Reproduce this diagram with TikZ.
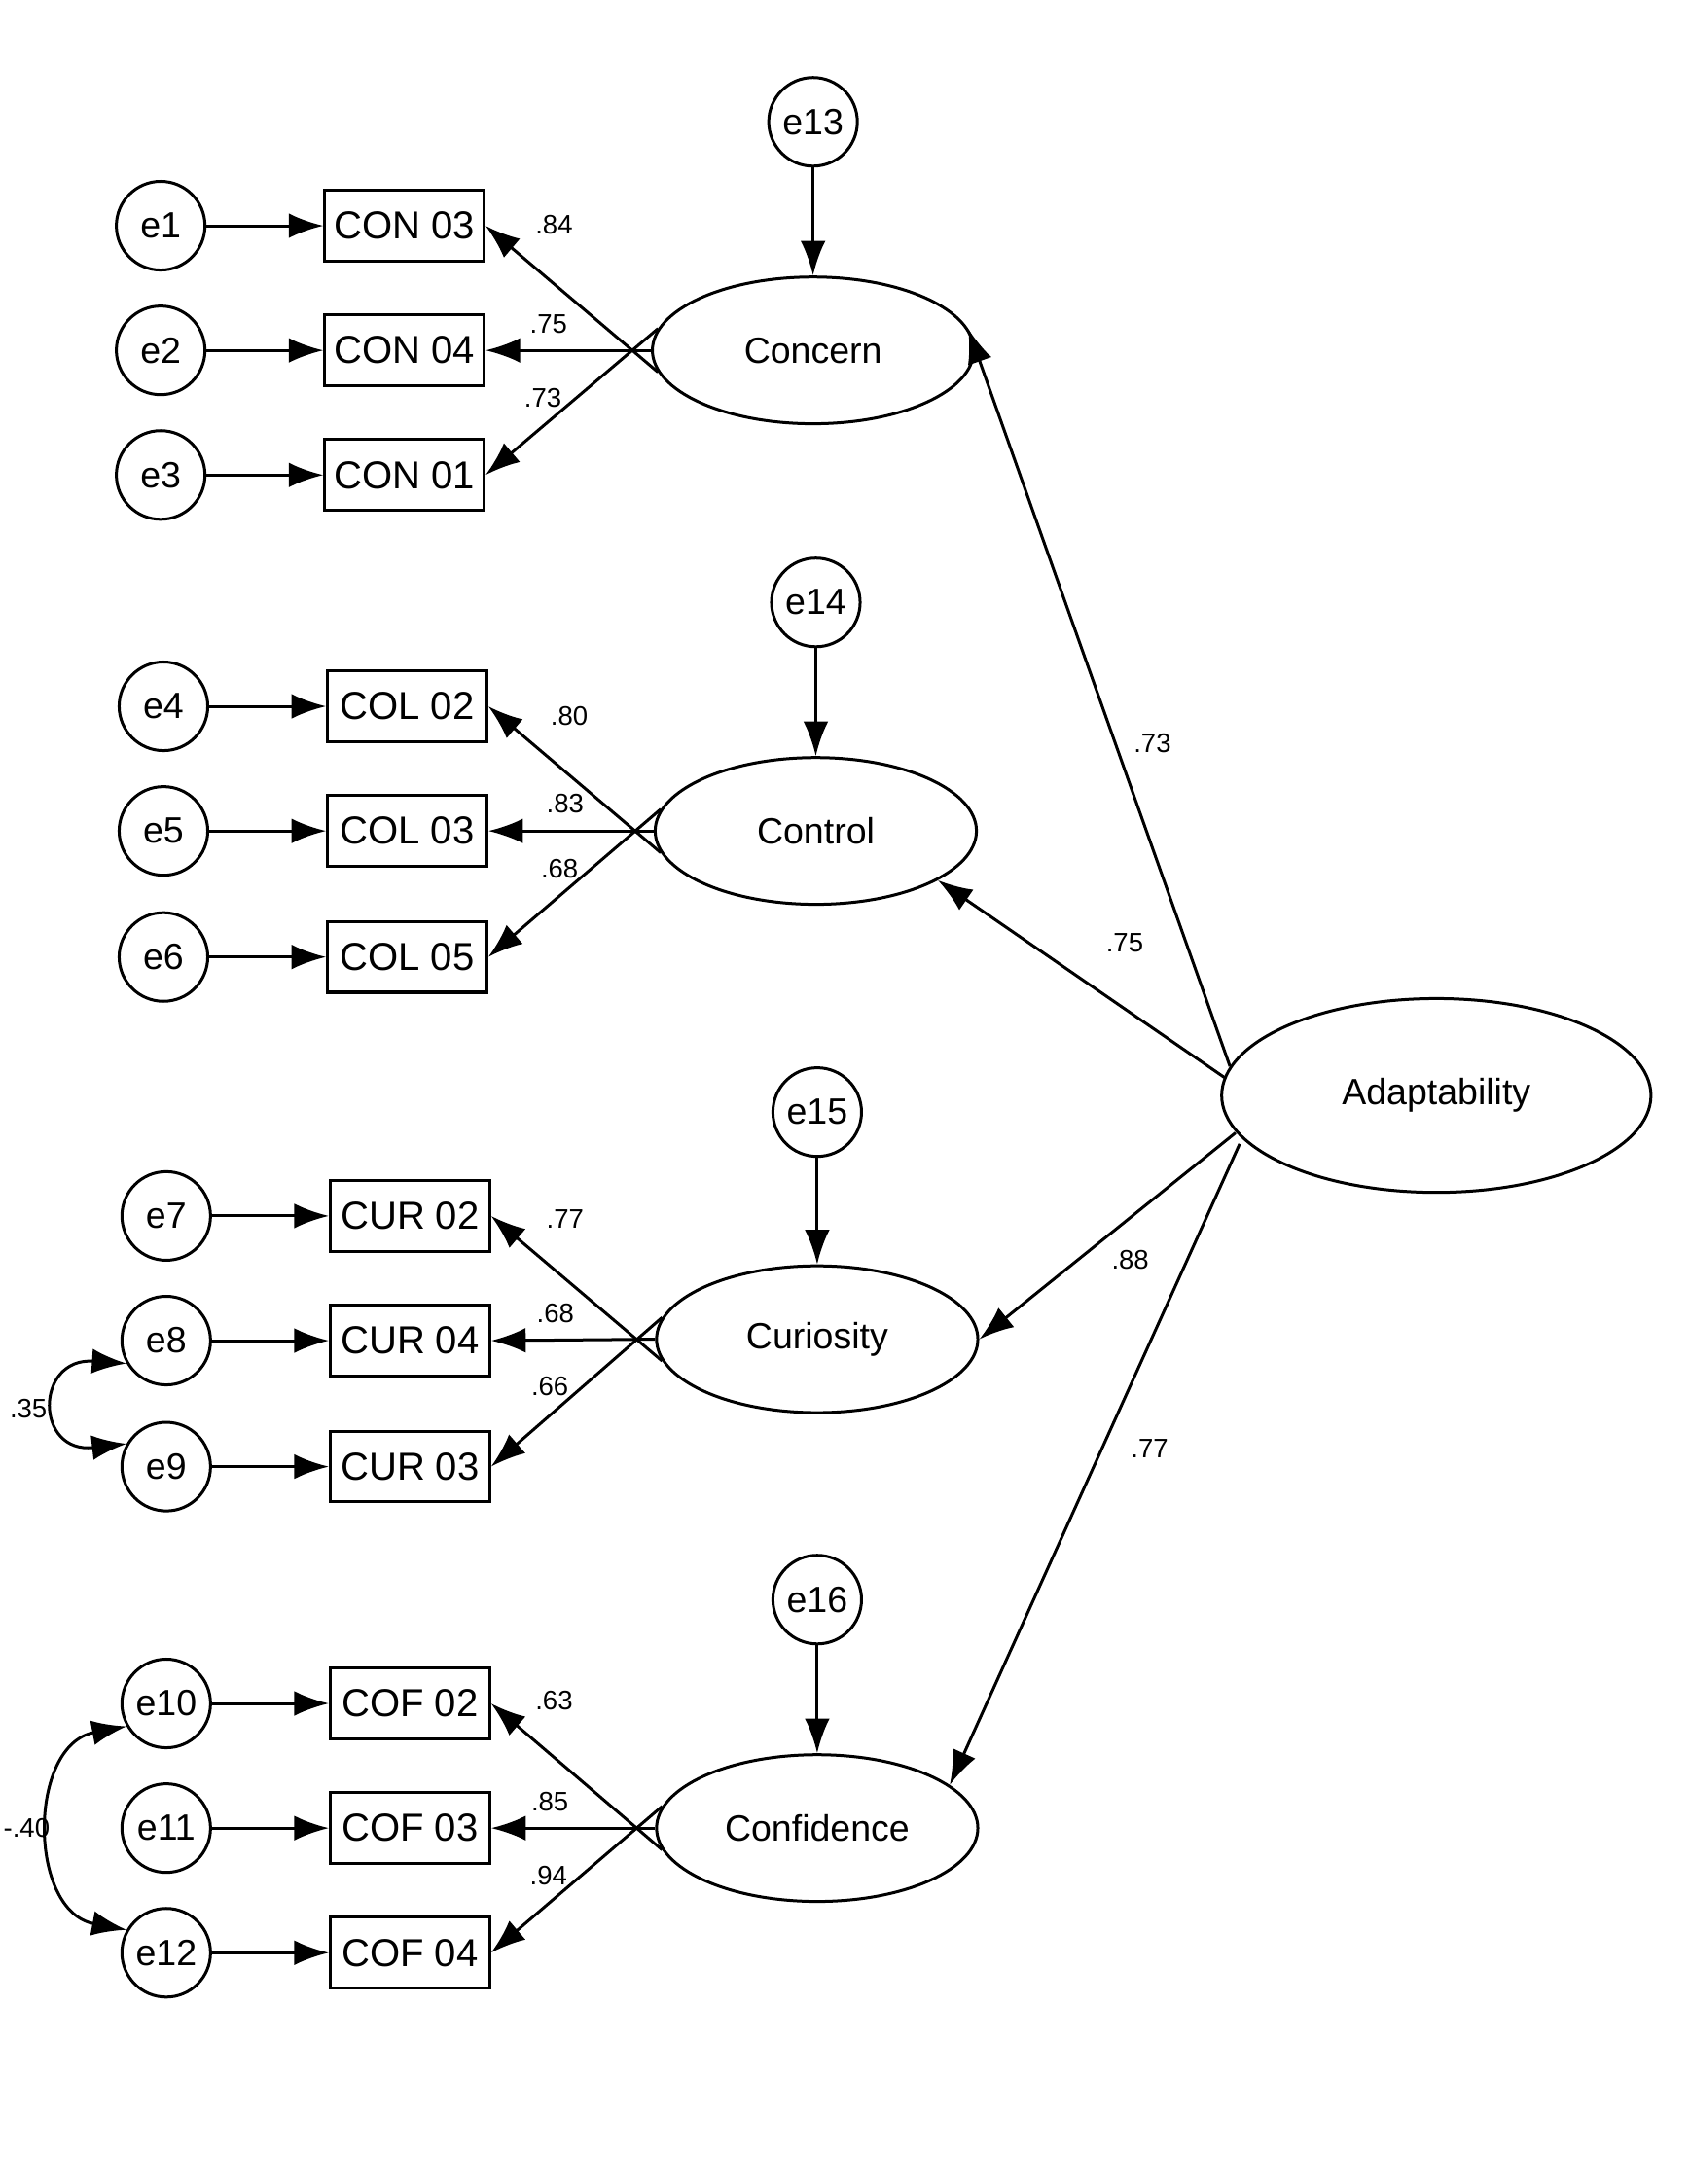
\documentclass[tikz,border=0pt]{standalone}
\usepackage{fontspec}
\setmainfont{Liberation Sans}
\usetikzlibrary{shapes.geometric,arrows.meta}
\begin{document}
\begin{tikzpicture}[x=0.02cm,y=-0.02cm,
 err/.style={circle,draw,line width=1.2pt,minimum size=1.28cm,inner sep=0pt,font=\fontsize{15}{15}\selectfont},
 obs/.style={rectangle,draw,line width=1.2pt,minimum width=2.3cm,minimum height=1.02cm,inner sep=0pt,font=\fontsize{16}{16}\selectfont},
 lat/.style={ellipse,draw,line width=1.2pt,minimum width=4.64cm,minimum height=2.12cm,inner sep=0pt,font=\fontsize{15}{15}\selectfont},
 arr/.style={line width=1.2pt,-{Latex[length=0.5cm,width=0.36cm]}},
 lab/.style={font=\fontsize{11}{11}\selectfont,inner sep=1pt}]
\useasboundingbox (0,0) rectangle (1220,1577);
% latent
\node[lat] (con) at (587,253) {Concern};
\node[lat] (ctl) at (589,600) {Control};
\node[lat] (cur) at (590,967) {Curiosity};
\node[lat] (cof) at (590,1320) {Confidence};
\node[lat,minimum width=6.2cm,minimum height=2.8cm] (ad) at (1037,791) {Adaptability};
% residual errors of latent
\node[err] (e13) at (587,88) {e13};
\node[err] (e14) at (589,435) {e14};
\node[err] (e15) at (590,803) {e15};
\node[err] (e16) at (590,1155) {e16};
\draw[arr] (e13) -- (con);
\draw[arr] (e14) -- (ctl);
\draw[arr] (e15) -- (cur);
\draw[arr] (e16) -- (cof);
% indicators
\foreach \e/\b/\t/\x/\y in {e1/b1/CON 03/292/163,e2/b2/CON 04/292/253,e3/b3/CON 01/292/343,
 e4/b4/COL 02/294/510,e5/b5/COL 03/294/600,e6/b6/COL 05/294/691,
 e7/b7/CUR 02/296/878,e8/b8/CUR 04/296/968,e9/b9/CUR 03/296/1059,
 e10/b10/COF 02/296/1230,e11/b11/COF 03/296/1320,e12/b12/COF 04/296/1410}{
 \node[obs] (\b) at (\x,\y) {\t};
 \node[err] (\e) at (\x-176,\y) {\e};
 \draw[arr] (\e) -- (\b);
}
% loadings
\draw[arr] (con.188) -- (b1.east); \node[lab] at (400,162) {.84};
\draw[arr] (con.west) -- (b2.east); \node[lab] at (396,234) {.75};
\draw[arr] (con.172) -- (b3.east); \node[lab] at (392,287) {.73};
\draw[arr] (ctl.188) -- (b4.east); \node[lab] at (411,517) {.80};
\draw[arr] (ctl.west) -- (b5.east); \node[lab] at (408,580) {.83};
\draw[arr] (ctl.172) -- (b6.east); \node[lab] at (404,627) {.68};
\draw[arr] (cur.188) -- (b7.east); \node[lab] at (408,880) {.77};
\draw[arr] (cur.west) -- (b8.east); \node[lab] at (401,948) {.68};
\draw[arr] (cur.172) -- (b9.east); \node[lab] at (397,1001) {.66};
\draw[arr] (cof.188) -- (b10.east); \node[lab] at (400,1228) {.63};
\draw[arr] (cof.west) -- (b11.east); \node[lab] at (397,1301) {.85};
\draw[arr] (cof.172) -- (b12.east); \node[lab] at (396,1354) {.94};
% structural
\coordinate (s1) at (888,770);
\coordinate (s2) at (884,778);
\coordinate (s3) at (892,818);
\coordinate (s4) at (895,826);
\draw[arr] (s1) -- (con.8);
\draw[arr] (s2) -- (ctl.-22);
\draw[arr] (s3) -- (cur.east);
\draw[arr] (s4) -- (cof.18);
\node[lab] at (832,537) {.73};
\node[lab] at (812,681) {.75};
\node[lab] at (816,910) {.88};
\node[lab] at (830,1046) {.77};
% covariances
\draw[line width=1.2pt,{Latex[length=0.5cm,width=0.36cm]}-{Latex[length=0.5cm,width=0.36cm]}] (e8.180+30) .. controls (25,980) and (25,1050) .. (e9.180-30);
\node[lab,anchor=east] at (36,1017) {.35};
\draw[line width=1.2pt,{Latex[length=0.5cm,width=0.36cm]}-{Latex[length=0.5cm,width=0.36cm]}] (e10.180+30) .. controls (20,1260) and (20,1380) .. (e12.180-30);
\node[lab,anchor=east] at (38,1320) {-.40};
\end{tikzpicture}
\end{document}
